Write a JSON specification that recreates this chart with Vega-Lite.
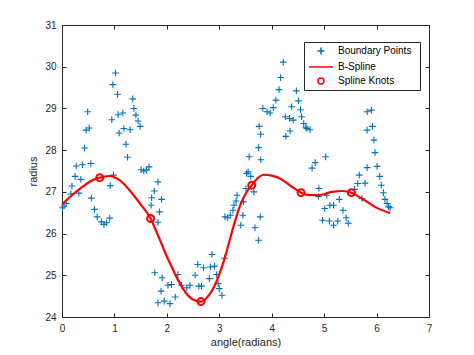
{
  "$schema": "https://vega.github.io/schema/vega-lite/v6.json",
  "width": 367,
  "height": 292,
  "autosize": "none",
  "padding": {"left": 62, "top": 25, "right": 45, "bottom": 38},
  "background": "white",
  "config": {
    "view": {"stroke": "#262626", "strokeWidth": 1},
    "font": "Liberation Sans",
    "axis": {
      "grid": false,
      "domainColor": "#262626",
      "tickColor": "#262626",
      "labelColor": "#262626",
      "titleColor": "#262626",
      "labelFont": "Liberation Sans",
      "titleFont": "Liberation Sans",
      "labelFontSize": 10,
      "titleFontSize": 11,
      "titleFontWeight": "normal",
      "tickSize": -4,
      "domainWidth": 1,
      "tickWidth": 1
    }
  },
  "datasets": {
    "pts": [
      {"angle": 0.01, "radius": 26.62}, {"angle": 0.04, "radius": 26.66}, {"angle": 0.08, "radius": 26.72},
      {"angle": 0.17, "radius": 26.95}, {"angle": 0.19, "radius": 27.14}, {"angle": 0.25, "radius": 27.37},
      {"angle": 0.27, "radius": 27.62}, {"angle": 0.32, "radius": 26.97}, {"angle": 0.36, "radius": 27.30},
      {"angle": 0.39, "radius": 27.65}, {"angle": 0.43, "radius": 28.05}, {"angle": 0.46, "radius": 28.48},
      {"angle": 0.49, "radius": 28.92}, {"angle": 0.52, "radius": 28.53}, {"angle": 0.55, "radius": 27.68},
      {"angle": 0.56, "radius": 26.85}, {"angle": 0.62, "radius": 26.58}, {"angle": 0.67, "radius": 26.40},
      {"angle": 0.75, "radius": 26.28}, {"angle": 0.80, "radius": 26.22}, {"angle": 0.85, "radius": 26.26},
      {"angle": 0.91, "radius": 26.37}, {"angle": 0.92, "radius": 27.15}, {"angle": 0.95, "radius": 28.73},
      {"angle": 0.97, "radius": 29.57}, {"angle": 0.98, "radius": 27.40}, {"angle": 1.02, "radius": 29.85},
      {"angle": 1.06, "radius": 29.34}, {"angle": 1.07, "radius": 28.85}, {"angle": 1.09, "radius": 28.41},
      {"angle": 1.16, "radius": 28.89}, {"angle": 1.18, "radius": 28.52}, {"angle": 1.22, "radius": 28.14},
      {"angle": 1.25, "radius": 27.83}, {"angle": 1.30, "radius": 28.49}, {"angle": 1.35, "radius": 29.23},
      {"angle": 1.37, "radius": 29.00}, {"angle": 1.41, "radius": 28.84}, {"angle": 1.45, "radius": 28.70},
      {"angle": 1.49, "radius": 28.57}, {"angle": 1.51, "radius": 27.53}, {"angle": 1.56, "radius": 27.50},
      {"angle": 1.61, "radius": 27.52}, {"angle": 1.66, "radius": 27.60}, {"angle": 1.70, "radius": 26.68},
      {"angle": 1.71, "radius": 26.86}, {"angle": 1.76, "radius": 27.02}, {"angle": 1.77, "radius": 25.06},
      {"angle": 1.83, "radius": 27.24}, {"angle": 1.83, "radius": 26.27}, {"angle": 1.83, "radius": 24.34},
      {"angle": 1.86, "radius": 26.52}, {"angle": 1.89, "radius": 24.62}, {"angle": 1.90, "radius": 26.82},
      {"angle": 1.91, "radius": 24.94}, {"angle": 1.95, "radius": 24.38}, {"angle": 2.02, "radius": 24.76},
      {"angle": 2.06, "radius": 24.32}, {"angle": 2.09, "radius": 24.78}, {"angle": 2.16, "radius": 24.48},
      {"angle": 2.21, "radius": 25.02}, {"angle": 2.28, "radius": 24.76}, {"angle": 2.38, "radius": 24.70},
      {"angle": 2.44, "radius": 24.76}, {"angle": 2.54, "radius": 25.00}, {"angle": 2.59, "radius": 25.26},
      {"angle": 2.61, "radius": 24.74}, {"angle": 2.66, "radius": 24.74}, {"angle": 2.70, "radius": 25.18},
      {"angle": 2.81, "radius": 24.92}, {"angle": 2.83, "radius": 25.20}, {"angle": 2.86, "radius": 25.50},
      {"angle": 2.91, "radius": 25.22}, {"angle": 2.95, "radius": 25.02}, {"angle": 2.98, "radius": 24.80},
      {"angle": 3.00, "radius": 24.68}, {"angle": 3.05, "radius": 24.52}, {"angle": 3.10, "radius": 25.41},
      {"angle": 3.11, "radius": 26.40}, {"angle": 3.16, "radius": 26.38}, {"angle": 3.21, "radius": 26.44},
      {"angle": 3.26, "radius": 26.56}, {"angle": 3.28, "radius": 26.68}, {"angle": 3.32, "radius": 26.78},
      {"angle": 3.34, "radius": 26.92}, {"angle": 3.41, "radius": 26.20}, {"angle": 3.45, "radius": 26.44},
      {"angle": 3.46, "radius": 26.76}, {"angle": 3.51, "radius": 27.08}, {"angle": 3.52, "radius": 27.44},
      {"angle": 3.55, "radius": 27.48}, {"angle": 3.57, "radius": 27.84}, {"angle": 3.60, "radius": 27.37},
      {"angle": 3.66, "radius": 27.00}, {"angle": 3.68, "radius": 26.14}, {"angle": 3.75, "radius": 25.84},
      {"angle": 3.75, "radius": 28.06}, {"angle": 3.76, "radius": 28.57}, {"angle": 3.78, "radius": 26.40},
      {"angle": 3.79, "radius": 27.77}, {"angle": 3.79, "radius": 28.38}, {"angle": 3.83, "radius": 29.00},
      {"angle": 3.91, "radius": 28.92}, {"angle": 3.97, "radius": 28.89}, {"angle": 4.03, "radius": 29.02},
      {"angle": 4.08, "radius": 29.20}, {"angle": 4.14, "radius": 29.45}, {"angle": 4.17, "radius": 29.74},
      {"angle": 4.22, "radius": 30.11}, {"angle": 4.26, "radius": 28.80}, {"angle": 4.27, "radius": 28.33},
      {"angle": 4.34, "radius": 28.76}, {"angle": 4.35, "radius": 28.46}, {"angle": 4.38, "radius": 29.04},
      {"angle": 4.41, "radius": 28.72}, {"angle": 4.47, "radius": 29.42}, {"angle": 4.51, "radius": 29.18},
      {"angle": 4.55, "radius": 28.97}, {"angle": 4.57, "radius": 28.80}, {"angle": 4.61, "radius": 28.64},
      {"angle": 4.65, "radius": 28.55}, {"angle": 4.67, "radius": 28.52}, {"angle": 4.73, "radius": 28.49},
      {"angle": 4.77, "radius": 27.57}, {"angle": 4.83, "radius": 27.70}, {"angle": 4.90, "radius": 27.08},
      {"angle": 4.89, "radius": 26.89}, {"angle": 4.97, "radius": 26.32}, {"angle": 5.01, "radius": 26.60},
      {"angle": 5.03, "radius": 27.84}, {"angle": 5.05, "radius": 26.92}, {"angle": 5.10, "radius": 26.30},
      {"angle": 5.11, "radius": 26.68}, {"angle": 5.18, "radius": 26.68}, {"angle": 5.18, "radius": 26.20},
      {"angle": 5.26, "radius": 26.30}, {"angle": 5.29, "radius": 26.82}, {"angle": 5.36, "radius": 26.56},
      {"angle": 5.42, "radius": 26.38}, {"angle": 5.46, "radius": 26.25}, {"angle": 5.58, "radius": 27.06},
      {"angle": 5.64, "radius": 27.20}, {"angle": 5.67, "radius": 27.40}, {"angle": 5.72, "radius": 26.84},
      {"angle": 5.78, "radius": 27.21}, {"angle": 5.82, "radius": 27.58}, {"angle": 5.82, "radius": 28.48},
      {"angle": 5.82, "radius": 28.92}, {"angle": 5.90, "radius": 28.96}, {"angle": 5.92, "radius": 28.57},
      {"angle": 5.95, "radius": 28.24}, {"angle": 5.97, "radius": 27.94}, {"angle": 6.01, "radius": 27.61},
      {"angle": 6.06, "radius": 27.37}, {"angle": 6.09, "radius": 27.16}, {"angle": 6.13, "radius": 26.98},
      {"angle": 6.16, "radius": 26.82}, {"angle": 6.20, "radius": 26.72}, {"angle": 6.23, "radius": 26.64},
      {"angle": 6.26, "radius": 26.62}
    ],
    "curve": [
      {"angle": 0.00, "radius": 26.70}, {"angle": 0.20, "radius": 26.93}, {"angle": 0.40, "radius": 27.13},
      {"angle": 0.55, "radius": 27.26}, {"angle": 0.72, "radius": 27.34}, {"angle": 0.90, "radius": 27.38},
      {"angle": 1.10, "radius": 27.28}, {"angle": 1.30, "radius": 27.02}, {"angle": 1.50, "radius": 26.70},
      {"angle": 1.69, "radius": 26.36}, {"angle": 1.80, "radius": 26.05}, {"angle": 1.90, "radius": 25.75},
      {"angle": 2.00, "radius": 25.45}, {"angle": 2.10, "radius": 25.18}, {"angle": 2.20, "radius": 24.92},
      {"angle": 2.30, "radius": 24.70}, {"angle": 2.40, "radius": 24.52}, {"angle": 2.50, "radius": 24.42},
      {"angle": 2.65, "radius": 24.37}, {"angle": 2.80, "radius": 24.52}, {"angle": 2.90, "radius": 24.72},
      {"angle": 3.00, "radius": 25.02}, {"angle": 3.10, "radius": 25.40}, {"angle": 3.20, "radius": 25.85},
      {"angle": 3.30, "radius": 26.30}, {"angle": 3.40, "radius": 26.68}, {"angle": 3.50, "radius": 26.95},
      {"angle": 3.62, "radius": 27.16}, {"angle": 3.75, "radius": 27.35}, {"angle": 3.85, "radius": 27.41},
      {"angle": 4.00, "radius": 27.39}, {"angle": 4.16, "radius": 27.32}, {"angle": 4.30, "radius": 27.20},
      {"angle": 4.41, "radius": 27.10}, {"angle": 4.56, "radius": 26.98}, {"angle": 4.73, "radius": 26.92},
      {"angle": 4.90, "radius": 26.92}, {"angle": 5.15, "radius": 27.00}, {"angle": 5.35, "radius": 27.02},
      {"angle": 5.52, "radius": 26.98}, {"angle": 5.72, "radius": 26.84}, {"angle": 5.97, "radius": 26.64},
      {"angle": 6.26, "radius": 26.49}
    ],
    "knots": [
      {"angle": 0.72, "radius": 27.34}, {"angle": 1.69, "radius": 26.36}, {"angle": 2.65, "radius": 24.37},
      {"angle": 3.62, "radius": 27.16}, {"angle": 4.56, "radius": 26.98}, {"angle": 5.52, "radius": 26.98}
    ]
  },
  "layer": [
    {
      "data": {"name": "pts"},
      "mark": {"type": "point", "filled": false, "strokeWidth": 1.1, "size": 90, "opacity": 1},
      "encoding": {
        "x": {"field": "angle", "type": "quantitative", "scale": {"domain": [0, 7], "nice": false},
              "axis": {"orient": "bottom", "values": [0, 1, 2, 3, 4, 5, 6, 7], "title": "angle(radians)", "labelPadding": 10, "titlePadding": 3, "labelFlush": false}},
        "y": {"field": "radius", "type": "quantitative", "scale": {"domain": [24, 31], "nice": false, "zero": false},
              "axis": {"orient": "left", "values": [24, 25, 26, 27, 28, 29, 30, 31], "title": "radius", "labelPadding": 10, "titlePadding": 6, "labelFlush": false}},
        "color": {
          "datum": "Boundary Points",
          "scale": {"domain": ["Boundary Points", "B-Spline", "Spline Knots"], "range": ["#0072BD", "#FF0000", "#FF0000"]},
          "legend": {
            "orient": "none", "legendX": 242, "legendY": 17,
            "title": " ", "titleOrient": "right", "titlePadding": 6, "titleFontSize": 10,
            "padding": 3, "symbolOffset": 8, "labelOffset": 11,
            "fillColor": "white", "strokeColor": "#262626",
            "symbolSize": 100, "labelFontSize": 10, "labelFont": "Liberation Sans", "labelColor": "#000000",
            "rowPadding": 3, "symbolStrokeWidth": 1.5,
            "encode": {"symbols": {"update": {"strokeWidth": {"signal": "datum.value === 'Boundary Points' ? 1 : 2"}, "fill": {"value": "transparent"}}}}
          }
        },
        "shape": {
          "datum": "Boundary Points",
          "scale": {"domain": ["Boundary Points", "B-Spline", "Spline Knots"],
                    "range": ["M-0.7,0H0.7M0,-0.7V0.7", "M-2.4,0H2.4", "M0.6,0A0.6,0.6,0,1,1,-0.6,0A0.6,0.6,0,1,1,0.6,0Z"]}
        }
      }
    },
    {
      "data": {"name": "curve"},
      "mark": {"type": "line", "strokeWidth": 2.2, "interpolate": "monotone"},
      "encoding": {
        "x": {"field": "angle", "type": "quantitative",
              "axis": {"orient": "top", "values": [0, 1, 2, 3, 4, 5, 6, 7], "labels": false, "title": null, "domain": false}},
        "y": {"field": "radius", "type": "quantitative",
              "axis": {"orient": "right", "values": [24, 25, 26, 27, 28, 29, 30, 31], "labels": false, "title": null, "domain": false}},
        "color": {"datum": "B-Spline"}
      }
    },
    {
      "data": {"name": "knots"},
      "mark": {"type": "point", "filled": false, "strokeWidth": 2, "size": 136, "opacity": 1},
      "encoding": {
        "x": {"field": "angle", "type": "quantitative", "axis": null},
        "y": {"field": "radius", "type": "quantitative", "axis": null},
        "color": {"datum": "Spline Knots"},
        "shape": {"datum": "Spline Knots"}
      }
    }
  ],
  "resolve": {"axis": {"x": "independent", "y": "independent"}}
}
